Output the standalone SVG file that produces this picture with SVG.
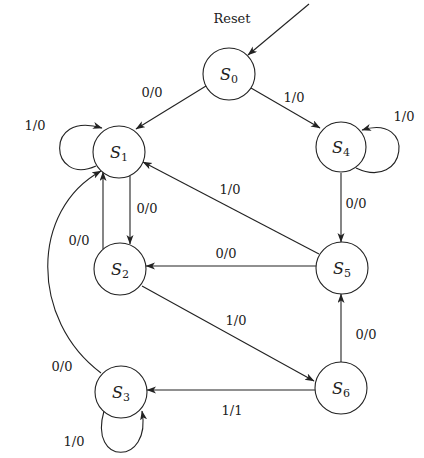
<svg xmlns="http://www.w3.org/2000/svg" width="424" height="458" viewBox="0 0 424 458">
<style>
.node circle{fill:#fff;stroke:#222;stroke-width:1.1}
.edge{fill:none;stroke:#222;stroke-width:1.1;marker-end:url(#arr)}
.lbl{font-family:"DejaVu Serif","Liberation Serif",serif;font-size:13px;fill:#222;text-anchor:middle}
.st{font-family:"DejaVu Serif","Liberation Serif",serif;font-size:16px;font-style:italic;fill:#222;text-anchor:middle}
.sub{font-size:11px;font-style:normal}
</style>
<defs>
<marker id="arr" markerWidth="10" markerHeight="8" refX="9" refY="3.5" orient="auto" markerUnits="userSpaceOnUse">
<path d="M0,0 L9.5,3.5 L0,7 L2.5,3.5 z" fill="#222"/>
</marker>
</defs>
<rect width="424" height="458" fill="#fff"/>
<g id="connectors">
<path class="edge" d="M309,4 L248,55"/>
<path class="edge" d="M206,86 L136,129"/>
<path class="edge" d="M251,88 L320,128"/>
<path class="edge" d="M96,166 C50,187 43,110 102,128"/>
<path class="edge" d="M356,168 C407,192 417,113 362,130"/>
<path class="edge" d="M130,176 L130,244"/>
<path class="edge" d="M103,249 L103,172"/>
<path class="edge" d="M101,373 C30,320 30,210 101,171"/>
<path class="edge" d="M104,411 C88,466 152,466 142,411"/>
<path class="edge" d="M341,173 L341,242"/>
<path class="edge" d="M319,254 L143,162"/>
<path class="edge" d="M316,266 L146,266"/>
<path class="edge" d="M142,286 L314,381"/>
<path class="edge" d="M341,362 L341,294"/>
<path class="edge" d="M315,390 L147,390"/>
</g>
<g id="edge-labels">
<text class="lbl" x="232" y="23">Reset</text>
<text class="lbl" x="152" y="97">0/0</text>
<text class="lbl" x="294" y="102">1/0</text>
<text class="lbl" x="35" y="130">1/0</text>
<text class="lbl" x="404" y="121">1/0</text>
<text class="lbl" x="147" y="213">0/0</text>
<text class="lbl" x="79" y="245">0/0</text>
<text class="lbl" x="62" y="371">0/0</text>
<text class="lbl" x="74" y="446">1/0</text>
<text class="lbl" x="356" y="208">0/0</text>
<text class="lbl" x="230" y="194">1/0</text>
<text class="lbl" x="226" y="258">0/0</text>
<text class="lbl" x="236" y="325">1/0</text>
<text class="lbl" x="366" y="339">0/0</text>
<text class="lbl" x="232" y="415">1/1</text>
</g>
<g id="S0" class="node"><circle cx="229" cy="74" r="26"/><text class="st" x="229" y="80">S<tspan class="sub" dy="3">0</tspan></text></g>
<g id="S1" class="node"><circle cx="119" cy="152" r="26"/><text class="st" x="119" y="158">S<tspan class="sub" dy="3">1</tspan></text></g>
<g id="S2" class="node"><circle cx="120" cy="269" r="26"/><text class="st" x="120" y="275">S<tspan class="sub" dy="3">2</tspan></text></g>
<g id="S3" class="node"><circle cx="121" cy="392" r="26"/><text class="st" x="121" y="398">S<tspan class="sub" dy="3">3</tspan></text></g>
<g id="S4" class="node"><circle cx="341" cy="147" r="25"/><text class="st" x="341" y="153">S<tspan class="sub" dy="3">4</tspan></text></g>
<g id="S5" class="node"><circle cx="342" cy="268" r="26"/><text class="st" x="342" y="274">S<tspan class="sub" dy="3">5</tspan></text></g>
<g id="S6" class="node"><circle cx="341" cy="388" r="26"/><text class="st" x="341" y="394">S<tspan class="sub" dy="3">6</tspan></text></g>
</svg>
